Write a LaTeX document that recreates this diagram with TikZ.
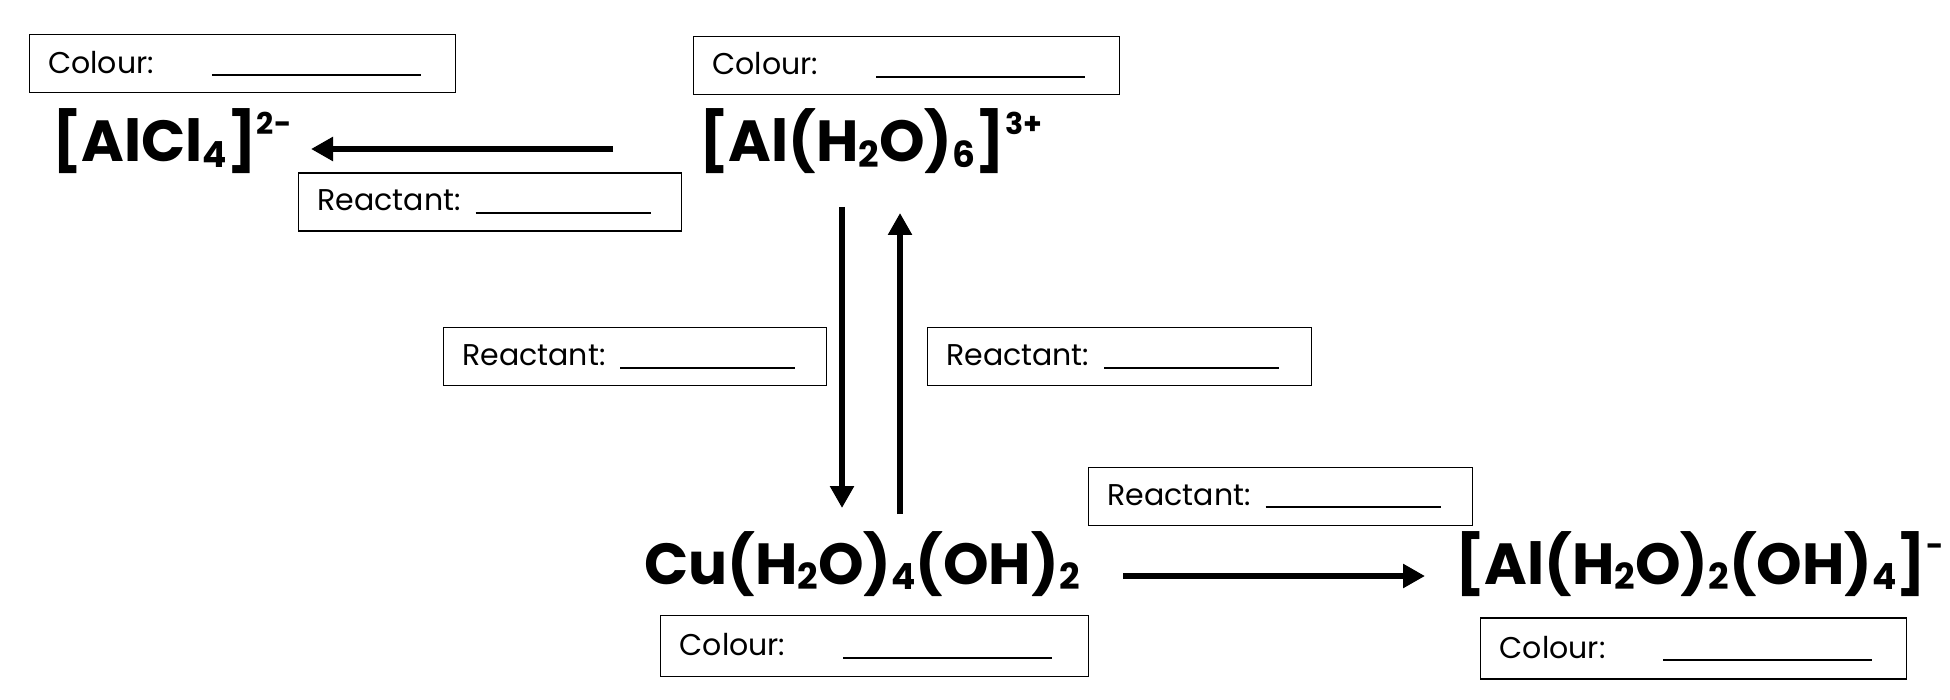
\documentclass[tikz,border=0pt]{standalone}
\usepackage{fontspec}
\setmainfont{Poppins}
\usetikzlibrary{arrows.meta}
\newcommand\chsub[1]{\raisebox{-0.10em}{\fontsize{36}{36}\selectfont #1}}
\newcommand\chsup[1]{\raisebox{0.48em}{\fontsize{30}{30}\selectfont #1}}
\newcommand\blankline[1]{\rule[-3pt]{#1}{1.7pt}}
\begin{document}
\begin{tikzpicture}[x=1pt,y=-1pt,
  labelbox/.style={draw=black, line width=1.3pt, anchor=west, inner xsep=19pt,
    minimum height=58pt, text width=388pt, align=left,
    font=\fontsize{30}{34}\selectfont},
  formula/.style={anchor=base west, inner sep=0pt,
    font=\fontsize{58}{66}\selectfont\bfseries},
  bigarrow/.style={line width=6.5pt, -{Triangle[length=22pt,width=23pt]}}]
\useasboundingbox (0,0) rectangle (1950,700);
% boxes
\node[labelbox] (c1) at (28.6,63.5) {Colour:\hspace{58pt}\blankline{209pt}};
\node[labelbox, text width=345pt] (r1) at (298,202) {Reactant: \blankline{175pt}};
\node[labelbox] (c2) at (692.7,65.2) {Colour:\hspace{58pt}\blankline{209pt}};
\node[labelbox, text width=345pt] (r2) at (442.7,356.8) {Reactant: \blankline{175pt}};
\node[labelbox, text width=346pt] (r3) at (926.5,356.8) {Reactant: \blankline{175pt}};
\node[labelbox, text width=346pt] (r4) at (1088,496.2) {Reactant: \blankline{175pt}};
\node[labelbox, text width=390pt, minimum height=61pt] (c3) at (660,646) {Colour:\hspace{58pt}\blankline{209pt}};
\node[labelbox, text width=388pt, minimum height=61pt] (c4) at (1480,648.5) {Colour:\hspace{58pt}\blankline{209pt}};
% formulas
\node[formula] (f1) at (52,162) {[AlCl\chsub{4}]\chsup{2-}};
\node[formula] (f2) at (699,162) {[Al(H\chsub{2}O)\chsub{6}]\chsup{3+}};
\node[formula] (f3) at (644,584) {Cu(H\chsub{2}O)\chsub{4}(OH)\chsub{2}};
\node[formula] (f4) at (1455,584) {[Al(H\chsub{2}O)\chsub{2}(OH)\chsub{4}]\chsup{-}};
% arrow ends
\coordinate (a1s) at (613,149);
\coordinate (a1e) at (311,149);
\coordinate (a2s) at (842,207);
\coordinate (a2e) at (842,508);
\coordinate (a3s) at (900,514);
\coordinate (a3e) at (900,213);
\coordinate (a4s) at (1123,576);
\coordinate (a4e) at (1425,576);
\draw[bigarrow] (a1s) -- (a1e);
\draw[bigarrow] (a2s) -- (a2e);
\draw[bigarrow] (a3s) -- (a3e);
\draw[bigarrow] (a4s) -- (a4e);
\end{tikzpicture}
\end{document}
